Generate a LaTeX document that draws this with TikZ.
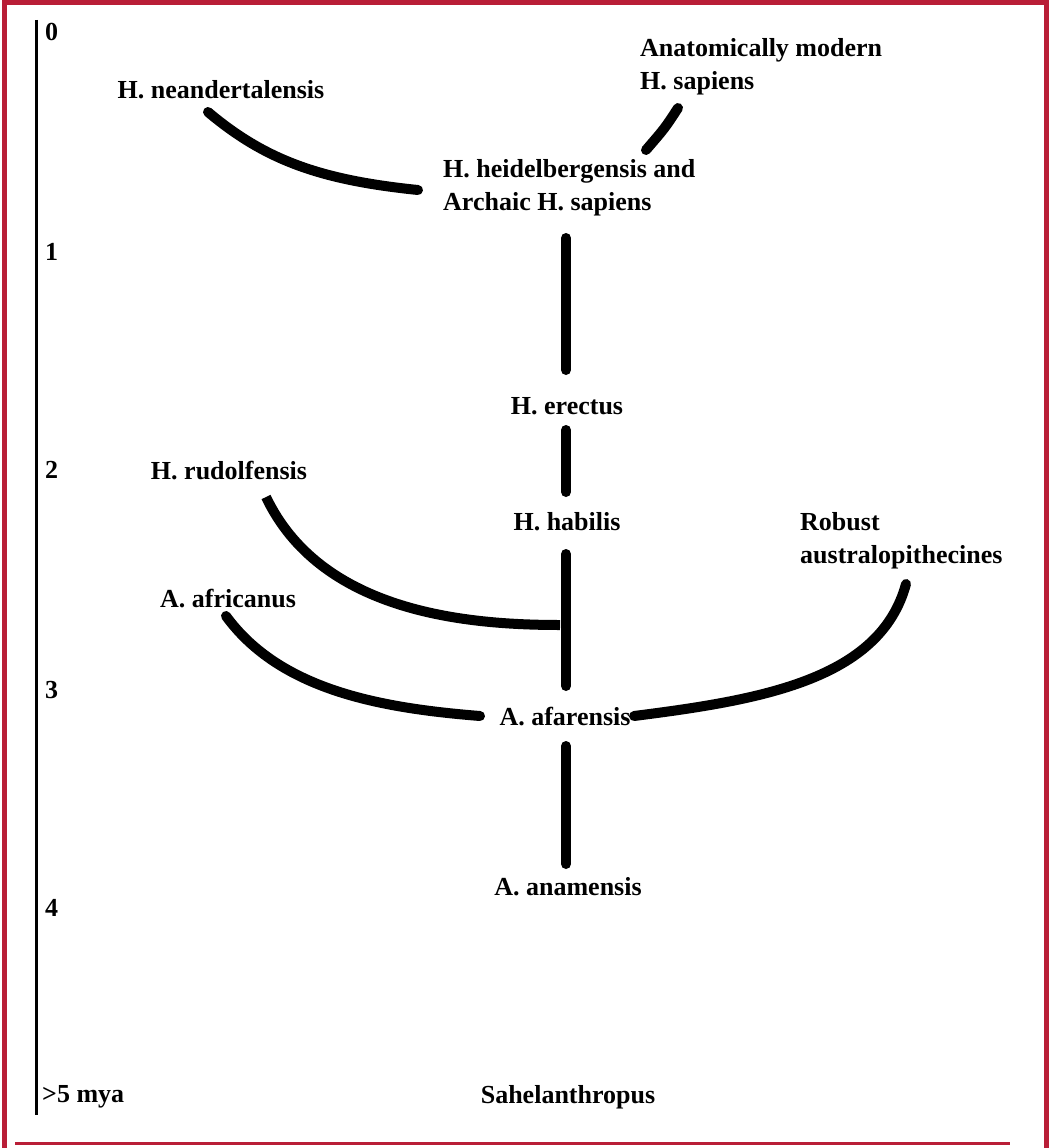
\documentclass[tikz,border=0pt]{standalone}
\usepackage{fontspec}
\setmainfont{Liberation Serif}
\definecolor{frame}{RGB}{185,30,55}
\begin{document}
\begin{tikzpicture}[x=1pt,y=-1pt,
  lbl/.style={font=\fontsize{26}{33}\selectfont\bfseries,inner sep=0pt,align=left},
  br/.style={line width=10pt,line cap=round},
  axis/.style={line width=3pt}]
\useasboundingbox (0,0) rectangle (1051,1148);
\fill[white] (0,0) rectangle (1051,1148);
\draw[frame,line width=5pt] (4,1148) -- (4,2.5) -- (1046,2.5) -- (1046,1148);
\draw[frame,line width=3pt] (15,1143) -- (1010,1143);
\coordinate (at) at (36,20); \coordinate (ab) at (36,1115);
\draw[axis] (at) -- (ab);
\node[lbl,anchor=west] (t0) at (45,32) {0};
\node[lbl,anchor=west] (t1) at (45,252) {1};
\node[lbl,anchor=west] (t2) at (45,470) {2};
\node[lbl,anchor=west] (t3) at (45,690) {3};
\node[lbl,anchor=west] (t4) at (45,908) {4};
\node[lbl,anchor=west] (t5) at (42,1097) {>5 mya};
\node[lbl] (nea) at (221,90) {H. neandertalensis};
\node[lbl,anchor=north west] (sap) at (640,38) {Anatomically modern\\H. sapiens};
\node[lbl,anchor=north west] (hei) at (443,159) {H. heidelbergensis and\\Archaic H. sapiens};
\node[lbl] (ere) at (567,406) {H. erectus};
\node[lbl] (hab) at (567,522) {H. habilis};
\node[lbl] (afa) at (565,717) {A. afarensis};
\node[lbl] (ana) at (568,887) {A. anamensis};
\node[lbl] (sah) at (568,1097) {Sahelanthropus};
\node[lbl] (rud) at (229,471) {H. rudolfensis};
\node[lbl] (afr) at (228,599) {A. africanus};
\node[lbl,anchor=north west] (rob) at (800,512) {Robust\\australopithecines};
\coordinate (n1) at (208,112); \coordinate (n2) at (418,190);
\coordinate (s1) at (678,108); \coordinate (s2) at (646,150);
\coordinate (v1) at (566,238); \coordinate (v2) at (566,370);
\coordinate (v3) at (566,430); \coordinate (v4) at (566,492);
\coordinate (v5) at (566,554); \coordinate (v6) at (566,686);
\coordinate (v7) at (566,746); \coordinate (v8) at (566,864);
\coordinate (r1) at (266,497); \coordinate (r2) at (560,625);
\coordinate (f1) at (226,616); \coordinate (f2) at (480,716);
\coordinate (b1) at (906,584); \coordinate (b2) at (634,716);
\draw[br] (n1) .. controls (265,160) and (320,180) .. (n2);
\draw[br] (s1) .. controls (665,128) .. (s2);
\draw[br] (v1) -- (v2);
\draw[br] (v3) -- (v4);
\draw[br] (v5) -- (v6);
\draw[br] (v7) -- (v8);
\draw[br,line cap=butt] (r1) .. controls (320,610) and (460,625) .. (r2);
\draw[br] (f1) .. controls (280,690) and (380,708) .. (f2);
\draw[br] (b1) .. controls (880,680) and (760,700) .. (b2);
\end{tikzpicture}
\end{document}
